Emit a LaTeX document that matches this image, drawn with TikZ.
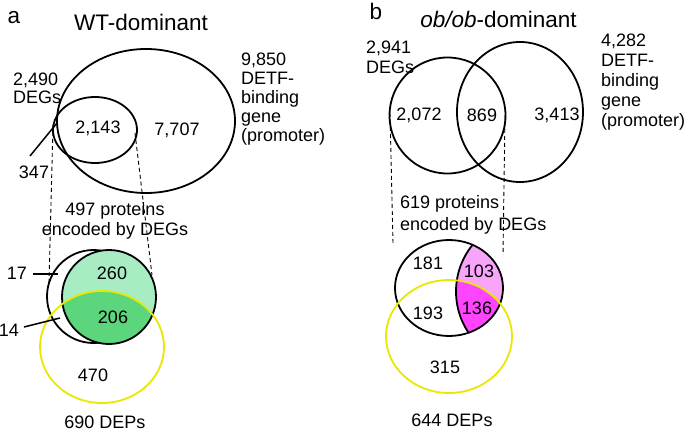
\documentclass[tikz,border=0pt]{standalone}
\usepackage{fontspec}
\setmainfont{Liberation Sans}
\definecolor{lgreen}{RGB}{168,236,196}
\definecolor{dgreen}{RGB}{92,214,124}
\definecolor{lpink}{RGB}{248,164,248}
\definecolor{mpink}{RGB}{255,68,255}
\definecolor{vennyellow}{RGB}{232,232,0}
\begin{document}
\begin{tikzpicture}[x=1pt,y=-1pt,
  lbl/.style={inner sep=0pt, font=\fontsize{18}{19}\selectfont},
  ttl/.style={inner sep=0pt, font=\fontsize{22.5}{26}\selectfont},
  outl/.style={line width=1.8pt, draw=black},
  yel/.style={line width=1.8pt, draw=vennyellow},
  dsh/.style={dash pattern=on 4pt off 3pt, line width=0.9pt},
  tick/.style={line width=1.5pt}]
\useasboundingbox[fill=white] (0,0) rectangle (685,433);

% ---------------- panel a ----------------
\node[ttl, anchor=base] (la) at (14,24) {a};
\node[ttl, anchor=base] (ta) at (141,30.5) {WT-dominant};

\draw[outl] (146,121) ellipse[x radius=89pt, y radius=72pt];
\draw[outl] (95,130) ellipse[x radius=42pt, y radius=33pt];

% multi-line nodes: base anchor = baseline of the last line
\node[lbl, anchor=base west, align=left, font=\fontsize{18}{18}\selectfont] (degsA) at (13,104) {2,490\\DEGs};
\node[lbl, anchor=base west, align=left] (detfA) at (241,141.5) {9,850\\DETF-\\binding\\gene\\(promoter)};
\node[lbl] (n2143) at (98,128) {2,143};
\node[lbl] (n7707) at (177,130) {7,707};
\node[lbl] (n347) at (34,172) {347};
\coordinate (s347) at (30,156);
\coordinate (e347) at (57,123);
\draw[tick] (s347) -- (e347);

\coordinate (dA1) at (53,125);
\coordinate (dA2) at (49,283);
\coordinate (dA3) at (135,133);
\coordinate (dA4) at (152,275);
\draw[dsh] (dA1) -- (dA2);
\draw[dsh] (dA3) -- (dA4);

\node[lbl, anchor=base, align=center, font=\fontsize{18}{20}\selectfont] (protA) at (115,235) {497 proteins\\encoded by DEGs};

\draw[outl, fill=white] (93.5,296.5) circle[radius=46.5pt];
\fill[lgreen] (109,297) circle[radius=47pt];
\begin{scope}
  \clip (102,347) ellipse[x radius=62pt, y radius=56pt];
  \fill[dgreen] (109,297) circle[radius=47pt];
\end{scope}
\draw[outl] (109,297) circle[radius=47pt];
\draw[yel] (102,347) ellipse[x radius=62pt, y radius=56pt];

\node[lbl] (n260) at (112,273) {260};
\node[lbl] (n206) at (113,317) {206};
\node[lbl] (n470) at (93,375) {470};
\node[lbl] (n17) at (17,273) {17};
\coordinate (s17) at (33,274);
\coordinate (e17) at (58,274);
\draw[tick] (s17) -- (e17);
\node[lbl] (n14) at (9,330) {14};
\coordinate (s14) at (24,327);
\coordinate (e14) at (60,318);
\draw[tick] (s14) -- (e14);
\node[lbl] (depA) at (105,422) {690 DEPs};

% ---------------- panel b ----------------
\node[ttl, anchor=base] (lb) at (376,20) {b};
\node[ttl, anchor=base] (tb) at (498.5,27.3) {\textit{ob/ob}-dominant};

\draw[outl] (447.5,115.5) circle[radius=58pt];
\draw[outl] (520,112) ellipse[x radius=63pt, y radius=70pt];

\node[lbl, anchor=base west, align=left, font=\fontsize{18}{20}\selectfont] (degsB) at (366,73.3) {2,941\\DEGs};
\node[lbl, anchor=base west, align=left, font=\fontsize{18}{20}\selectfont] (detfB) at (601,126.7) {4,282\\DETF-\\binding\\gene\\(promoter)};
\node[lbl] (n2072) at (419,115) {2,072};
\node[lbl] (n869) at (482,115) {869};
\node[lbl] (n3413) at (557,115) {3,413};

\coordinate (dB1) at (390,113);
\coordinate (dB2) at (393,243);
\coordinate (dB3) at (505,115);
\coordinate (dB4) at (503,255);
\draw[dsh] (dB1) -- (dB2);
\draw[dsh] (dB3) -- (dB4);

\node[lbl, anchor=base west, align=left, font=\fontsize{18}{22}\selectfont] (protB) at (400,230) {619 proteins\\encoded by DEGs};

\fill[white] (449,288) ellipse[x radius=54pt, y radius=48pt];
\begin{scope}
  \clip (449,288) ellipse[x radius=54pt, y radius=48pt];
  \fill[lpink] (530,291.5) circle[radius=74pt];
  \begin{scope}
    \clip (449,336.5) ellipse[x radius=63pt, y radius=56.5pt];
    \fill[mpink] (530,291.5) circle[radius=74pt];
  \end{scope}
  \draw[outl] (530,291.5) circle[radius=74pt];
\end{scope}
\draw[outl] (449,288) ellipse[x radius=54pt, y radius=48pt];
\draw[yel] (449,336.5) ellipse[x radius=63pt, y radius=56.5pt];

\node[lbl] (n181) at (428,263) {181};
\node[lbl] (n103) at (479,271) {103};
\node[lbl] (n193) at (428,313) {193};
\node[lbl] (n136) at (477,308) {136};
\node[lbl] (n315) at (445,367) {315};
\node[lbl] (depB) at (452,420) {644 DEPs};
\end{tikzpicture}
\end{document}
